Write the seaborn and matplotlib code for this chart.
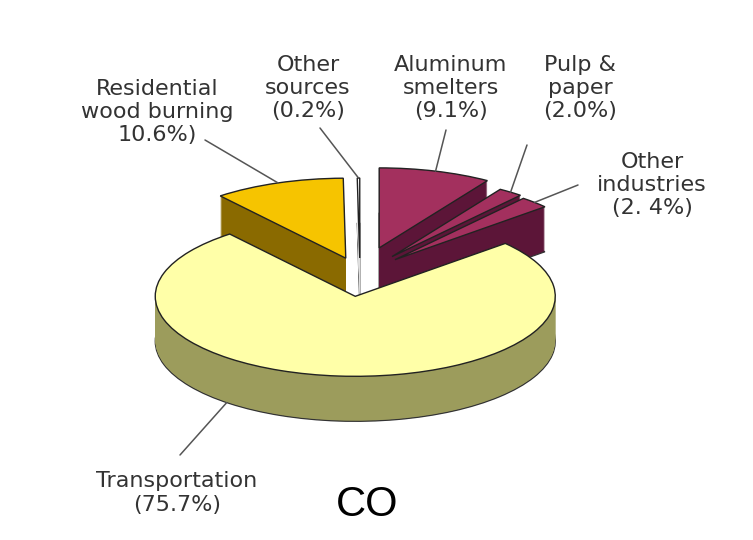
import numpy as np
import matplotlib
matplotlib.use('Agg')
import matplotlib.pyplot as plt
import seaborn as sns

# Aandeel CO-uitstoot per bron (%), met de klok mee vanaf 12 uur
sources = ['Aluminum smelters', 'Pulp & paper', 'Other industries',
           'Transportation', 'Residential wood burning', 'Other sources']
shares = [9.1, 2.0, 2.4, 75.7, 10.6, 0.2]
labels = ['Aluminum\nsmelters\n(9.1%)', 'Pulp &\npaper\n(2.0%)',
          'Other\nindustries\n(2. 4%)', 'Transportation\n(75.7%)',
          'Residential\nwood burning\n10.6%)', 'Other\nsources\n(0.2%)']

# Kleuren: bovenvlak en zijkant
top_colors = ['#a3305e', '#a3305e', '#a3305e', '#ffffa8', '#f6c400', '#ffffff']
side_colors = ['#5c1538', '#5c1538', '#5c1538', '#9c9c5c', '#8a6a00', '#e0e0e0']
explode = [0.34, 0.27, 0.25, 0.28, 0.21, 0.20]
draw_rank = [1, 3, 4, 5, 2, 0]   # volgorde van tekenen (achter -> voor)

W, H = 753, 540
RX, RY = 200, 80
SQ = RY / RX
DEPTH = 45


def to_data(x, y):
    # pixelpositie (y van boven) -> data met platgedrukte y-as
    return x, (H - y) / SQ


sns.set_theme(style='white')
fig = plt.figure(figsize=(W / 100, H / 100), dpi=100)
ax = fig.add_axes([0, 0, 1, 1])

cx, cy = to_data(360, 274)
top_wedges = None
for k in range(DEPTH + 1):
    is_top = k == DEPTH
    drop = (DEPTH - k) / SQ
    if is_top:
        wp = dict(linewidth=1.0, edgecolor='#222222')
    elif k == 0:
        wp = dict(linewidth=0.9, edgecolor='#333333')
    else:
        wp = dict(linewidth=0)
    wedges, _ = ax.pie(shares, explode=[e * RX for e in explode],
                       colors=top_colors if is_top else side_colors,
                       radius=RX, center=(cx, cy - drop), startangle=90,
                       counterclock=False, wedgeprops=wp)
    for w, r in zip(wedges, draw_rank):
        w.set_zorder(r * 100 + k)
    if is_top:
        top_wedges = wedges

ax.set_aspect('auto')
ax.set_xlim(0, W)
ax.set_ylim(0, H / SQ)
ax.set_axis_off()

# Labels met verbindingslijnen
text_pos = [(451, 88), (580, 88), (652, 185), (177, 493), (157, 112), (308, 88)]
line_start = [(446, 130), (527, 145), (578, 185), (180, 455), (205, 140), (320, 128)]

for i, w in enumerate(top_wedges):
    mid = np.deg2rad((w.theta1 + w.theta2) / 2)
    ax_, ay_ = w.center
    if sources[i] == 'Transportation':
        mid = np.deg2rad(230)
        ay_ = ay_ - DEPTH / SQ
    px = ax_ + w.r * np.cos(mid)
    py = ay_ + w.r * np.sin(mid)
    ax.annotate('', xy=(px, py), xytext=to_data(*line_start[i]),
                arrowprops=dict(arrowstyle='-', color='#555555', lw=1.1,
                                shrinkA=0, shrinkB=0), zorder=1000)
    tx, ty = to_data(*text_pos[i])
    ax.text(tx, ty, labels[i], ha='center', va='center', multialignment='center',
            fontsize=16, color='#333333', linespacing=1.2,
            family='DejaVu Sans', zorder=1000)

ax.text(*to_data(367, 505), 'CO', ha='center', va='center', fontsize=30,
        color='black', family='Liberation Sans', zorder=1000)

fig.savefig('out.png', dpi=100)
